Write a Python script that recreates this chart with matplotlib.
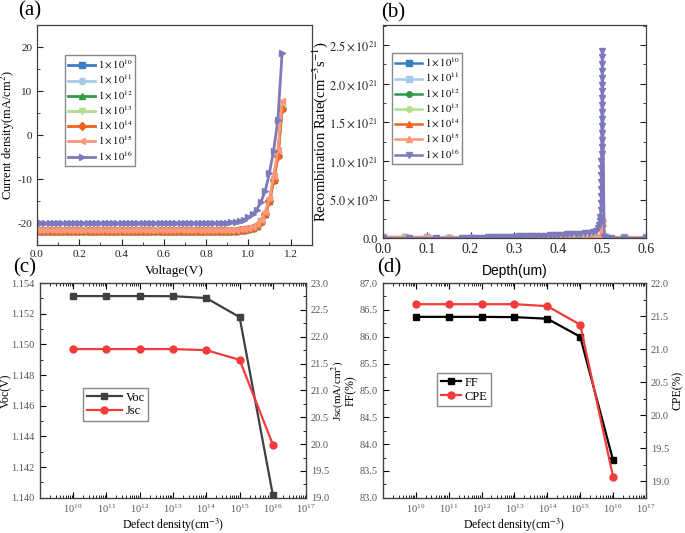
import matplotlib
matplotlib.use('Agg')
import matplotlib.pyplot as plt
import numpy as np
from matplotlib.ticker import MultipleLocator, FuncFormatter, LogLocator, LogFormatterMathtext, NullFormatter

plt.rcParams['font.family'] = ['Liberation Serif', 'DejaVu Serif']
plt.rcParams['mathtext.fontset'] = 'stix'
plt.rcParams['axes.unicode_minus'] = False

# ---------------- data ----------------
labels = [r'$1\times10^{10}$', r'$1\times10^{11}$', r'$1\times10^{12}$', r'$1\times10^{13}$',
          r'$1\times10^{14}$', r'$1\times10^{15}$', r'$1\times10^{16}$']
colors = ['#3a7fc3', '#a3cbe6', '#2c9a48', '#b3dd8e', '#f0641e', '#fb9878', '#7d79bb']

# (a) J-V sweep 0 .. 1.16 V
voltage = np.round(np.arange(0, 1.161, 0.02), 2)
j_1e10 = [-21.78, -21.78, -21.78, -21.78, -21.78, -21.78, -21.78, -21.78, -21.78, -21.78,
          -21.78, -21.78, -21.78, -21.78, -21.78, -21.78, -21.78, -21.78, -21.78, -21.78,
          -21.78, -21.78, -21.77, -21.77, -21.77, -21.77, -21.77, -21.77, -21.77, -21.77,
          -21.77, -21.77, -21.77, -21.77, -21.77, -21.77, -21.77, -21.77, -21.77, -21.77,
          -21.77, -21.77, -21.77, -21.77, -21.76, -21.75, -21.74, -21.71, -21.66, -21.57,
          -21.42, -21.13, -20.58, -19.6, -17.9, -14.9, -10.1, -4.6, 6.2]
j_1e11 = [-21.78, -21.78, -21.78, -21.78, -21.78, -21.78, -21.78, -21.78, -21.78, -21.78,
          -21.78, -21.78, -21.78, -21.78, -21.78, -21.78, -21.78, -21.78, -21.78, -21.78,
          -21.78, -21.78, -21.77, -21.77, -21.77, -21.77, -21.77, -21.77, -21.77, -21.77,
          -21.77, -21.77, -21.77, -21.77, -21.77, -21.77, -21.77, -21.77, -21.77, -21.77,
          -21.77, -21.77, -21.77, -21.77, -21.76, -21.75, -21.74, -21.71, -21.66, -21.57,
          -21.42, -21.13, -20.58, -19.6, -17.9, -14.9, -10.1, -4.6, 6.2]
j_1e12 = [-21.78, -21.78, -21.78, -21.78, -21.78, -21.78, -21.78, -21.78, -21.78, -21.78,
          -21.78, -21.78, -21.78, -21.78, -21.78, -21.78, -21.78, -21.78, -21.78, -21.78,
          -21.78, -21.78, -21.77, -21.77, -21.77, -21.77, -21.77, -21.77, -21.77, -21.77,
          -21.77, -21.77, -21.77, -21.77, -21.77, -21.77, -21.77, -21.77, -21.77, -21.77,
          -21.77, -21.77, -21.77, -21.77, -21.76, -21.75, -21.74, -21.71, -21.66, -21.57,
          -21.42, -21.13, -20.59, -19.61, -17.91, -14.92, -10.12, -4.62, 6.18]
j_1e13 = [-21.78, -21.78, -21.78, -21.78, -21.78, -21.78, -21.78, -21.78, -21.78, -21.78,
          -21.78, -21.78, -21.78, -21.78, -21.78, -21.78, -21.78, -21.78, -21.78, -21.78,
          -21.78, -21.78, -21.77, -21.77, -21.77, -21.77, -21.77, -21.77, -21.77, -21.77,
          -21.77, -21.77, -21.77, -21.77, -21.77, -21.77, -21.77, -21.77, -21.77, -21.77,
          -21.77, -21.77, -21.77, -21.77, -21.76, -21.75, -21.74, -21.71, -21.66, -21.58,
          -21.43, -21.14, -20.6, -19.63, -17.95, -14.97, -10.2, -4.68, 6.12]
j_1e14 = [-21.77, -21.77, -21.77, -21.77, -21.77, -21.77, -21.77, -21.77, -21.77, -21.77,
          -21.77, -21.77, -21.77, -21.77, -21.77, -21.77, -21.77, -21.77, -21.77, -21.77,
          -21.77, -21.77, -21.76, -21.76, -21.76, -21.76, -21.76, -21.76, -21.76, -21.76,
          -21.76, -21.76, -21.76, -21.76, -21.76, -21.76, -21.76, -21.76, -21.76, -21.76,
          -21.76, -21.76, -21.76, -21.76, -21.75, -21.74, -21.73, -21.7, -21.65, -21.57,
          -21.43, -21.15, -20.63, -19.68, -18.02, -15.05, -10.3, -4.85, 6.0]
j_1e15 = [-21.58, -21.58, -21.58, -21.58, -21.58, -21.58, -21.58, -21.58, -21.58, -21.58,
          -21.58, -21.58, -21.58, -21.58, -21.58, -21.58, -21.58, -21.58, -21.58, -21.58,
          -21.58, -21.58, -21.57, -21.57, -21.57, -21.57, -21.57, -21.57, -21.57, -21.57,
          -21.57, -21.57, -21.57, -21.57, -21.57, -21.57, -21.57, -21.57, -21.57, -21.57,
          -21.57, -21.57, -21.57, -21.57, -21.56, -21.55, -21.53, -21.49, -21.43, -21.33,
          -21.16, -20.85, -20.27, -19.25, -17.45, -14.35, -9.4, -3.4, 7.7]
j_1e16 = [-20.0, -20.0, -20.0, -20.0, -20.0, -20.0, -20.0, -20.0, -20.0, -20.0,
          -20.0, -20.0, -20.0, -20.0, -20.0, -20.0, -20.0, -20.0, -20.0, -20.0,
          -20.0, -20.0, -19.99, -19.99, -19.99, -19.99, -19.99, -19.99, -19.99, -19.99,
          -19.99, -19.99, -19.99, -19.99, -19.99, -19.99, -19.99, -19.99, -19.99, -19.99,
          -19.98, -19.97, -19.96, -19.94, -19.91, -19.86, -19.78, -19.66, -19.47, -19.17,
          -18.7, -18.0, -16.9, -15.2, -12.7, -8.6, -3.5, 3.5, 18.6]
jv_curves = [j_1e10, j_1e11, j_1e12, j_1e13, j_1e14, j_1e15, j_1e16]
jv_markers = ['s', 'o', '^', 'v', 'D', '<', '>']

# (b) recombination rate (x1e21 cm-3 s-1) vs depth (um)
depth_lo = [0.0, 0.05, 0.1, 0.15, 0.2, 0.25, 0.3, 0.35, 0.4, 0.45, 0.48, 0.49, 0.495,
            0.499, 0.502, 0.51, 0.55, 0.6]
rr_1e10 = [0.012, 0.011, 0.010, 0.008, 0.006, 0.004, 0.003, 0.003, 0.003, 0.003, 0.003,
           0.003, 0.003, 0.003, 0.003, 0.010, 0.011, 0.011]
rr_1e11 = [0.012, 0.011, 0.010, 0.008, 0.006, 0.004, 0.003, 0.003, 0.003, 0.003, 0.003,
           0.003, 0.003, 0.003, 0.003, 0.010, 0.011, 0.011]
rr_1e12 = [0.012, 0.011, 0.010, 0.008, 0.006, 0.004, 0.003, 0.003, 0.003, 0.003, 0.003,
           0.003, 0.003, 0.003, 0.004, 0.010, 0.011, 0.011]
rr_1e13 = [0.012, 0.011, 0.010, 0.008, 0.006, 0.004, 0.003, 0.003, 0.003, 0.003, 0.003,
           0.004, 0.004, 0.005, 0.006, 0.010, 0.011, 0.011]
rr_1e14 = [0.013, 0.012, 0.011, 0.009, 0.007, 0.005, 0.003, 0.003, 0.003, 0.004, 0.005,
           0.007, 0.010, 0.018, 0.026, 0.011, 0.012, 0.012]
depth_1e15 = [0.0, 0.05, 0.1, 0.15, 0.2, 0.25, 0.3, 0.35, 0.4, 0.45, 0.47, 0.48, 0.49,
              0.495, 0.498, 0.5, 0.501, 0.502, 0.503, 0.505, 0.51, 0.55, 0.6]
rr_1e15 = [0.018, 0.017, 0.016, 0.014, 0.011, 0.008, 0.005, 0.004, 0.004, 0.005, 0.006,
           0.008, 0.012, 0.02, 0.05, 0.12, 0.2, 0.26, 0.1, 0.03, 0.015, 0.014, 0.014]
depth_1e16 = [0.0, 0.06, 0.12, 0.18, 0.19, 0.2, 0.21, 0.22, 0.23, 0.24, 0.25, 0.26, 0.27,
              0.28, 0.29, 0.3, 0.31, 0.32, 0.33, 0.34, 0.35, 0.36, 0.37, 0.38, 0.39, 0.4,
              0.41, 0.42, 0.43, 0.44, 0.45, 0.46, 0.47, 0.48, 0.485, 0.49, 0.493, 0.495,
              0.496, 0.497, 0.4975, 0.498, 0.4981, 0.4982, 0.4983, 0.4984, 0.4985, 0.4986,
              0.4987, 0.4988, 0.4989, 0.499, 0.4991, 0.4992, 0.4993, 0.4994, 0.4995, 0.4996,
              0.4997, 0.4998, 0.4999, 0.5, 0.5002, 0.505, 0.52, 0.55, 0.6]
rr_1e16 = [0.001, 0.001, 0.002, 0.004, 0.005, 0.006, 0.007, 0.008, 0.009, 0.010, 0.012,
           0.013, 0.015, 0.017, 0.019, 0.021, 0.023, 0.025, 0.027, 0.029, 0.031, 0.033,
           0.035, 0.038, 0.040, 0.043, 0.046, 0.049, 0.052, 0.056, 0.060, 0.065, 0.072,
           0.085, 0.10, 0.13, 0.17, 0.22, 0.28, 0.36, 0.45, 0.55, 0.64, 0.73, 0.82, 0.91,
           1.00, 1.09, 1.18, 1.27, 1.36, 1.45, 1.54, 1.63, 1.72, 1.81, 1.90, 1.99, 2.08,
           2.17, 2.26, 2.35, 2.42, 0.02, 0.003, 0.002, 0.002]
rr_depths = [depth_lo, depth_lo, depth_lo, depth_lo, depth_lo, depth_1e15, depth_1e16]
rr_curves = [rr_1e10, rr_1e11, rr_1e12, rr_1e13, rr_1e14, rr_1e15, rr_1e16]
rr_markers = ['s', 's', 'o', 'o', '^', '^', 'v']

# (c), (d) vs defect density
defect = [1e10, 1e11, 1e12, 1e13, 1e14, 1e15, 1e16]
voc = [1.15315, 1.15315, 1.15315, 1.15314, 1.15302, 1.15178, 1.14017]
jsc = [21.77, 21.77, 21.77, 21.77, 21.75, 21.57, 19.99]
ff = [86.37, 86.37, 86.37, 86.365, 86.335, 86.0, 83.70]
cpe = [21.68, 21.68, 21.68, 21.68, 21.65, 21.37, 19.07]

# ---------------- figure ----------------
fig = plt.figure(figsize=(6.85, 5.33), dpi=100)
ax_a = fig.add_axes([0.054, 0.540, 0.401, 0.413])
ax_b = fig.add_axes([0.559, 0.553, 0.384, 0.400])
ax_c = fig.add_axes([0.058, 0.066, 0.389, 0.403])
ax_d = fig.add_axes([0.559, 0.066, 0.384, 0.403])

spine_col = '#404040'
for ax in [ax_a, ax_b, ax_c, ax_d]:
    for s in ax.spines.values():
        s.set_color(spine_col)
        s.set_linewidth(0.9)

leg_kw = dict(loc='upper left', fancybox=False, edgecolor='#888888', framealpha=1,
              numpoints=1, borderaxespad=0)

# (a)
for j, c, m, lab in zip(jv_curves, colors, jv_markers, labels):
    ax_a.plot(voltage, j, color=c, marker=m, ms=4.5, lw=2, label=lab)
ax_a.set_xlim(0, 1.3)
ax_a.set_ylim(-25, 25)
ax_a.xaxis.set_major_locator(MultipleLocator(0.2))
ax_a.xaxis.set_minor_locator(MultipleLocator(0.1))
ax_a.yaxis.set_major_locator(MultipleLocator(10))
ax_a.yaxis.set_minor_locator(MultipleLocator(5))
ax_a.xaxis.set_major_formatter(FuncFormatter(lambda v, p: '%.1f' % v))
ax_a.tick_params(which='both', direction='in', labelsize=8, colors='#222222')
ax_a.tick_params(which='major', length=4)
ax_a.tick_params(which='minor', length=2)
ax_a.set_xlabel('Voltage(V)', fontsize=9.5, labelpad=4)
ax_a.set_ylabel('Current density(mA/cm$^2$)', fontsize=9)
ax_a.yaxis.set_label_coords(-0.072, 0.5)
ax_a.legend(bbox_to_anchor=(0.102, 0.864), fontsize=7.5, handlelength=2.6,
            labelspacing=0.2, borderpad=0.3, handletextpad=0.25, **leg_kw)

# (b)
for d, r, c, m, lab in zip(rr_depths, rr_curves, colors, rr_markers, labels):
    ax_b.plot(d, np.array(r) * 1e21, color=c, marker=m, ms=4, lw=1.8, label=lab)
ax_b.set_xlim(0, 0.6)
ax_b.set_ylim(0, 2.76e21)
ax_b.xaxis.set_major_locator(MultipleLocator(0.1))
ax_b.xaxis.set_minor_locator(MultipleLocator(0.05))
ax_b.yaxis.set_major_locator(MultipleLocator(0.5e21))
ax_b.yaxis.set_minor_locator(MultipleLocator(0.25e21))


def sci_fmt(v, pos):
    if abs(v) < 1e15:
        return '0.0'
    if v < 0:
        return ''
    e = int(np.floor(np.log10(v) + 1e-9))
    return r'$%.1f\times10^{%d}$' % (v / 10 ** e, e)


ax_b.yaxis.set_major_formatter(FuncFormatter(sci_fmt))
ax_b.tick_params(which='both', direction='in', right=True, labelsize=10, colors='#222222')
ax_b.tick_params(axis='y', labelsize=8.8)
ax_b.tick_params(which='major', length=4)
ax_b.tick_params(which='minor', length=2)
ax_b.set_xlabel('Depth(um)', fontsize=10, family='Liberation Sans', labelpad=6)
ax_b.set_ylabel('Recombination Rate(cm$^{-3}$s$^{-1}$)', fontsize=10.5)
ax_b.yaxis.set_label_coords(-0.2, 0.5)
ax_b.legend(bbox_to_anchor=(0.034, 0.869), fontsize=7.5, handlelength=2.6,
            labelspacing=0.2, borderpad=0.3, handletextpad=0.25, **leg_kw)


def setup_log_axis(ax):
    ax.set_xscale('log')
    ax.set_xlim(1e9, 1e17)
    ax.set_xticks([1e10, 1e11, 1e12, 1e13, 1e14, 1e15, 1e16, 1e17])
    ax.xaxis.set_major_formatter(LogFormatterMathtext())
    ax.xaxis.set_minor_locator(LogLocator(base=10, subs=np.arange(2, 10), numticks=20))
    ax.xaxis.set_minor_formatter(NullFormatter())
    ax.tick_params(axis='x', which='both', direction='in', top=True, labelsize=7.5,
                   labelcolor='#555555')
    ax.tick_params(which='major', length=4)
    ax.tick_params(which='minor', length=2)
    ax.set_xlabel('Defect density(cm$^{-3}$)', fontsize=8.5)
    ax.xaxis.set_label_coords(0.5, -0.09)


def setup_lin_y(ax, lo, hi, major, minor, fmt):
    ax.set_ylim(lo, hi)
    ax.yaxis.set_major_locator(MultipleLocator(major))
    ax.yaxis.set_minor_locator(MultipleLocator(minor))
    ax.yaxis.set_major_formatter(FuncFormatter(lambda v, p: fmt % v))
    ax.tick_params(axis='y', which='both', direction='in', labelsize=7.5, labelcolor='#555555')
    ax.tick_params(which='major', length=4)
    ax.tick_params(which='minor', length=2)


# (c)
setup_log_axis(ax_c)
l1, = ax_c.plot(defect, voc, color='#404040', marker='s', ms=5, lw=1.6, label='Voc')
setup_lin_y(ax_c, 1.140, 1.154, 0.002, 0.001, '%.3f')
ax_c.set_ylabel('Voc(V)', fontsize=8.5)
ax_c.yaxis.set_label_coords(-0.103, 0.5)
ax_c2 = ax_c.twinx()
l2, = ax_c2.plot(defect, jsc, color='#f23b3b', marker='o', ms=5, lw=1.6, label='Jsc')
setup_lin_y(ax_c2, 19.0, 23.0, 0.5, 0.25, '%.1f')
ax_c2.set_ylabel('Jsc(mA/cm$^2$)', fontsize=8)
ax_c2.yaxis.set_label_coords(1.086, 0.5)
for s in ax_c2.spines.values():
    s.set_color(spine_col)
ax_c.legend([l1, l2], ['Voc', 'Jsc'], bbox_to_anchor=(0.162, 0.512), fontsize=9,
            handlelength=2.8, labelspacing=0.15, borderpad=0.3, handletextpad=0.3, **leg_kw)

# (d)
setup_log_axis(ax_d)
l3, = ax_d.plot(defect, ff, color='black', marker='s', ms=5, lw=1.6, label='FF')
setup_lin_y(ax_d, 83.0, 87.0, 0.5, 0.25, '%.1f')
ax_d.set_ylabel('FF(%)', fontsize=8.5)
ax_d.yaxis.set_label_coords(-0.1, 0.5)
ax_d2 = ax_d.twinx()
l4, = ax_d2.plot(defect, cpe, color='#f23b3b', marker='o', ms=5, lw=1.6, label='CPE')
setup_lin_y(ax_d2, 18.75, 22.0, 0.5, 0.25, '%.1f')
ax_d2.set_ylabel('CPE(%)', fontsize=8.5)
ax_d2.yaxis.set_label_coords(1.099, 0.5)
for s in ax_d2.spines.values():
    s.set_color(spine_col)
ax_d.legend([l3, l4], ['FF', 'CPE'], bbox_to_anchor=(0.205, 0.581), fontsize=9,
            handlelength=1.6, labelspacing=0.15, borderpad=0.3, handletextpad=0.3, **leg_kw)

# panel letters
fig.text(0.043, 0.980, '(a)', fontsize=15, ha='center', va='center')
fig.text(0.574, 0.975, '(b)', fontsize=15, ha='center', va='center')
fig.text(0.036, 0.497, '(c)', fontsize=15, ha='center', va='center')
fig.text(0.568, 0.497, '(d)', fontsize=15, ha='center', va='center')

fig.savefig('out.png', dpi=100)
